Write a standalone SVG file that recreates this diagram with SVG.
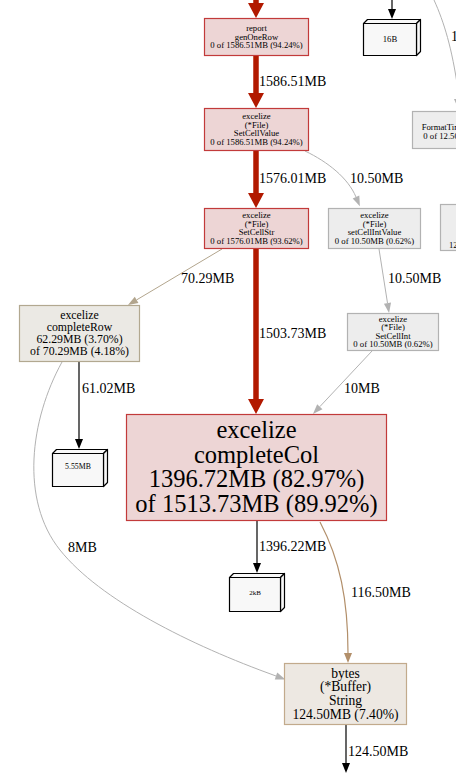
<svg xmlns="http://www.w3.org/2000/svg" width="456" height="773" viewBox="0 0 456 773">
<style>
text{font-family:"Liberation Serif","Times New Roman",serif;fill:#000;text-anchor:middle}
.s{font-size:8.7px}
.m{font-size:11.8px}
.b{font-size:13.6px}
.xl{font-size:24.5px}
.lb{font-size:14px;text-anchor:start}
.red{fill:#edd5d5;stroke:#c23a3a;stroke-width:1.2}
.gry{fill:#ededed;stroke:#b2b2b2;stroke-width:1.2}
.row{fill:#ebe9e4;stroke:#b2a890;stroke-width:1.2}
.byt{fill:#ede8e2;stroke:#c2aa8c;stroke-width:1.2}
.box{fill:#f8f8f8;stroke:#000;stroke-width:1.2;stroke-linejoin:round}
.er{fill:none;stroke:#b21900;stroke-width:5.5}
.ek{fill:none;stroke:#000;stroke-width:1.2}
.eg{fill:none;stroke:#b2b2b2;stroke-width:1}
.et{fill:none;stroke:#b2a58d;stroke-width:1}
.eb{fill:none;stroke:#b28f6a;stroke-width:1.2}
</style>
<defs>
<marker id="aR" markerUnits="userSpaceOnUse" markerWidth="20" markerHeight="20" refX="0" refY="0" orient="auto" overflow="visible"><path d="M0,-8 L15,0 L0,8 z" fill="#b21900"/></marker>
<marker id="aK" markerUnits="userSpaceOnUse" markerWidth="20" markerHeight="20" refX="0" refY="0" orient="auto" overflow="visible"><path d="M0,-4 L10,0 L0,4 z" fill="#000"/></marker>
<marker id="aG" markerUnits="userSpaceOnUse" markerWidth="20" markerHeight="20" refX="0" refY="0" orient="auto" overflow="visible"><path d="M0,-3.6 L10,0 L0,3.6 z" fill="#b2b2b2"/></marker>
<marker id="aT" markerUnits="userSpaceOnUse" markerWidth="20" markerHeight="20" refX="0" refY="0" orient="auto" overflow="visible"><path d="M0,-3.6 L10,0 L0,3.6 z" fill="#b2a58d"/></marker>
<marker id="aB" markerUnits="userSpaceOnUse" markerWidth="20" markerHeight="20" refX="0" refY="0" orient="auto" overflow="visible"><path d="M0,-4 L10,0 L0,4 z" fill="#b28f6a"/></marker>
</defs>

<g id="edges">
<path class="er" d="M256,-5 L256,3" marker-end="url(#aR)"/>
<path class="er" d="M256,56 L256,93" marker-end="url(#aR)"/>
<path class="er" d="M256,151 L256,193" marker-end="url(#aR)"/>
<path class="er" d="M256,249 L256,399" marker-end="url(#aR)"/>
<path class="ek" d="M392,-2 L392,9" marker-end="url(#aK)"/>
<path class="eg" d="M305,151 C328,162 348,178 356,197" marker-end="url(#aG)"/>
<path class="eg" d="M379,249 L387.5,303.1" marker-end="url(#aG)"/>
<path class="eg" d="M372,351 L319.8,406.7" marker-end="url(#aG)"/>
<path class="et" d="M222,249 L136.6,299.9" marker-end="url(#aT)"/>
<path class="ek" d="M79,362 L79,439" marker-end="url(#aK)"/>
<path class="ek" d="M257,521 L257,563" marker-end="url(#aK)"/>
<path class="eb" d="M320,522 C340,560 348,600 348,653" marker-end="url(#aB)"/>
<path class="eg" d="M62,362 C30,420 20,500 60,550 C100,600 190,645 276,676" marker-end="url(#aG)"/>
<path class="ek" d="M346,725 L346,763" marker-end="url(#aK)"/>
<path class="eg" d="M434,0 C444,22 452,48 458,90"/>
<polygon points="454,99 464,99 459,110" fill="#b2b2b2"/>
<text class="lb" x="259" y="85.5">1586.51MB</text>
<text class="lb" x="259" y="182.5">1576.01MB</text>
<text class="lb" x="350" y="182.5">10.50MB</text>
<text class="lb" x="181" y="282.5">70.29MB</text>
<text class="lb" x="388" y="282.5">10.50MB</text>
<text class="lb" x="259" y="337.5">1503.73MB</text>
<text class="lb" x="82" y="392.5">61.02MB</text>
<text class="lb" x="344" y="392.5">10MB</text>
<text class="lb" x="259" y="550.5">1396.22MB</text>
<text class="lb" x="68" y="551.5">8MB</text>
<text class="lb" x="351" y="596.5">116.50MB</text>
<text class="lb" x="348" y="755.5">124.50MB</text>
<text class="lb" x="451" y="40.5">1</text>
</g>

<g id="genOneRow">
<rect class="red" x="204.5" y="18.5" width="104" height="37"/>
<text class="s" x="256.5" y="31.1">report</text>
<text class="s" x="256.5" y="39.6">genOneRow</text>
<text class="s" x="256.5" y="48.1">0 of 1586.51MB (94.24%)</text>
</g>

<g id="SetCellValue">
<rect class="red" x="204.5" y="108.5" width="104" height="42"/>
<text class="s" x="256.5" y="119.4">excelize</text>
<text class="s" x="256.5" y="127.9">(*File)</text>
<text class="s" x="256.5" y="136.4">SetCellValue</text>
<text class="s" x="256.5" y="144.9">0 of 1586.51MB (94.24%)</text>
</g>

<g id="SetCellStr">
<rect class="red" x="204.5" y="208.5" width="104" height="40"/>
<text class="s" x="256.5" y="218.4">excelize</text>
<text class="s" x="256.5" y="226.9">(*File)</text>
<text class="s" x="256.5" y="235.4">SetCellStr</text>
<text class="s" x="256.5" y="243.9">0 of 1576.01MB (93.62%)</text>
</g>

<g id="setCellIntValue">
<rect class="gry" x="328.5" y="208.5" width="92" height="40"/>
<text class="s" x="374.5" y="218.4">excelize</text>
<text class="s" x="374.5" y="226.9">(*File)</text>
<text class="s" x="374.5" y="235.4">setCellIntValue</text>
<text class="s" x="374.5" y="243.9">0 of 10.50MB (0.62%)</text>
</g>

<g id="SetCellInt">
<rect class="gry" x="347.5" y="313.5" width="91" height="37"/>
<text class="s" x="393" y="321.9">excelize</text>
<text class="s" x="393" y="330.4">(*File)</text>
<text class="s" x="393" y="338.9">SetCellInt</text>
<text class="s" x="393" y="347.4">0 of 10.50MB (0.62%)</text>
</g>

<g id="completeRow">
<rect class="row" x="19.5" y="305.5" width="120" height="56"/>
<text class="m" x="79.5" y="319.2">excelize</text>
<text class="m" x="79.5" y="331.2">completeRow</text>
<text class="m" x="79.5" y="343.2">62.29MB (3.70%)</text>
<text class="m" x="79.5" y="355.2">of 70.29MB (4.18%)</text>
</g>

<g id="completeCol">
<rect class="red" x="126.5" y="414.5" width="260" height="106"/>
<text class="xl" x="256.5" y="438.1">excelize</text>
<text class="xl" x="256.5" y="462.6">completeCol</text>
<text class="xl" x="256.5" y="487.1">1396.72MB (82.97%)</text>
<text class="xl" x="256.5" y="511.6">of 1513.73MB (89.92%)</text>
</g>

<g id="bytesString">
<rect class="byt" x="284.5" y="663.5" width="122" height="61"/>
<text class="b" x="345.5" y="677.8">bytes</text>
<text class="b" x="345.5" y="691.4">(*Buffer)</text>
<text class="b" x="345.5" y="705">String</text>
<text class="b" x="345.5" y="718.6">124.50MB (7.40%)</text>
</g>

<g id="box16B">
<path class="box" d="M363.5,23.5 L367.5,19.5 L420.5,19.5 L416.5,23.5 z"/>
<path class="box" d="M416.5,23.5 L420.5,19.5 L420.5,51.5 L416.5,55.5 z"/>
<rect class="box" x="363.5" y="23.5" width="53" height="32"/>
<text class="s" x="390" y="42">16B</text>
</g>

<g id="box555MB">
<path class="box" d="M52.5,453.5 L56.5,449.5 L107.5,449.5 L103.5,453.5 z"/>
<path class="box" d="M103.5,453.5 L107.5,449.5 L107.5,482.5 L103.5,486.5 z"/>
<rect class="box" x="52.5" y="453.5" width="51" height="33"/>
<text x="78" y="469" style="font-size:7.8px">5.55MB</text>
</g>

<g id="box2kB">
<path class="box" d="M229.5,577.5 L233.5,573.5 L284.5,573.5 L280.5,577.5 z"/>
<path class="box" d="M280.5,577.5 L284.5,573.5 L284.5,607.5 L280.5,611.5 z"/>
<rect class="box" x="229.5" y="577.5" width="51" height="34"/>
<text x="255" y="594.5" style="font-size:7px">2kB</text>
</g>

<g id="FormatTime">
<rect class="gry" x="412.5" y="111.5" width="70" height="37"/>
<text class="s" x="421.7" y="130.3" style="text-anchor:start">FormatTim</text>
<text class="s" x="423.3" y="139.3" style="text-anchor:start">0 of 12.50</text>
</g>

<g id="rightNode">
<rect class="gry" x="440.5" y="204.5" width="40" height="46"/>
<text class="s" x="449" y="247.6" style="text-anchor:start">12</text>
</g>
</svg>
